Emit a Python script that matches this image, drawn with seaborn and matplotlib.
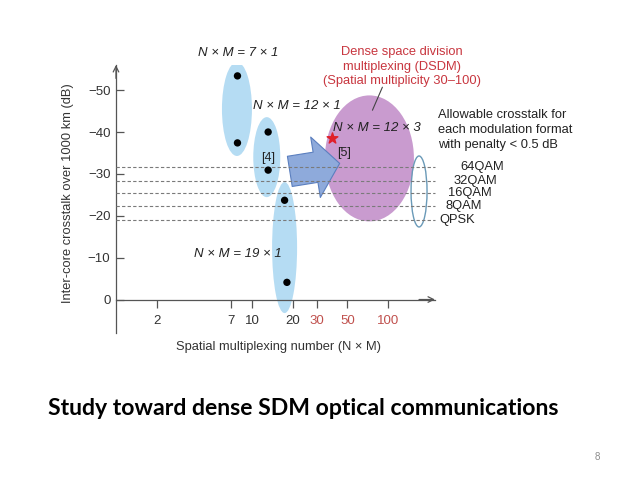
import matplotlib
matplotlib.use("Agg")
import matplotlib.pyplot as plt
import seaborn as sns
import pandas as pd
from matplotlib.patches import Ellipse
from matplotlib.transforms import ScaledTranslation
from matplotlib.ticker import FixedLocator, FixedFormatter, NullLocator

# measured fibres: spatial multiplicity vs crosstalk
dot_n = [7.8, 7.8, 13.1, 13.1, 17.3, 18.0]
dot_xt = [-53.4, -37.4, -40.0, -30.9, -23.7, -4.1]

# groups (centre, size in px)
group_n = [7.73, 12.8, 17.3]
group_xt = [-45.5, -34.0, -12.4]
group_w = [30, 27, 25]
group_h = [94, 80, 131]
group_labels = ["N × M = 7 × 1", "N × M = 12 × 1", "N × M = 19 × 1"]

# DSDM region
dsdm_n, dsdm_xt = 72.6, -33.7
star_n, star_xt = 38.4, -38.5

# allowable crosstalk per modulation format
mod_formats = ["64QAM", "32QAM", "16QAM", "8QAM", "QPSK"]
mod_xt = [-31.6, -28.3, -25.4, -22.4, -19.1]
mod_dx = [25, 19, 13, 11, 4]

xticks = [2, 7, 10, 20, 30, 50, 100]
yticks = [-50, -40, -30, -20, -10, 0]

sns.set_style("white")
plt.rcParams['font.family'] = ['Liberation Sans', 'DejaVu Sans']

fig = plt.figure(figsize=(6.38, 4.78), dpi=100)
ax = fig.add_axes([0.1818, 0.3033, 0.5, 0.5607])
ax.set_xscale('log')
ax.set_xlim(1, 220)
ax.set_ylim(8, -56)


def blob(x, y, w, h, **kw):
    # ellipse centred in data coords, sized in pixels
    tr = fig.dpi_scale_trans + ScaledTranslation(x, y, ax.transData)
    e = Ellipse((0, 0), w / 100, h / 100, transform=tr, **kw)
    ax.add_patch(e)
    return e


for n, xt, w, h in zip(group_n, group_xt, group_w, group_h):
    blob(n, xt, w, h, fc="#b5dcf3", ec="none", zorder=1)
blob(dsdm_n, dsdm_xt, 89, 126, fc="#c99bcf", ec="none", zorder=1)
blob(168, -25.8, 16, 71, fc="none", ec="#6a9ab8", lw=1.0, zorder=3)

# big arrow towards DSDM
ax.annotate("", xy=(43.9, -32.5), xytext=(18.9, -30.6),
            arrowprops=dict(arrowstyle="simple,head_length=0.8,head_width=2.0,tail_width=1.0",
                            mutation_scale=22, fc="#8eaadb", ec="#5b7fbf", lw=0.8,
                            shrinkA=0, shrinkB=0), zorder=2)

# dashed crosstalk limits
for xt, name, dx in zip(mod_xt, mod_formats, mod_dx):
    ax.plot([1, 220], [xt, xt], ls=(0, (3, 2)), color="#7a7a7a", lw=0.8,
            zorder=3, clip_on=False)
    ax.annotate(name, xy=(220, xt), xytext=(dx, 0), textcoords="offset pixels",
                ha="left", va="center", fontsize=9.3, color="#222222",
                annotation_clip=False)

df = pd.DataFrame({"n": dot_n, "xt": dot_xt})
sns.scatterplot(data=df, x="n", y="xt", ax=ax, color="black", s=28,
                edgecolor="none", zorder=4)
ax.scatter([star_n], [star_xt], marker="*", s=65, color="#e0202a", zorder=4)

# labels
ax.text(7.9, -58.9, group_labels[0], style="italic", fontsize=9.5,
        ha="center", va="center", color="#222222")
ax.text(10.2, -46.2, group_labels[1], style="italic", fontsize=9.5,
        ha="left", va="center", color="#222222")
ax.text(3.77, -10.8, group_labels[2], style="italic", fontsize=9.5,
        ha="left", va="center", color="#222222")
ax.text(39.0, -40.9, "N × M = 12 × 3", style="italic", fontsize=9.5,
        ha="left", va="center", color="#222222")
ax.text(13.1, -33.7, "[4]", fontsize=9, ha="center", va="center", color="#222222")
ax.text(47.0, -34.9, "[5]", fontsize=9, ha="center", va="center", color="#222222")
ax.text(126.5, -55.6, "Dense space division\nmultiplexing (DSDM)\n(Spatial multiplicity 30–100)",
        fontsize=9.3, ha="center", va="center", color="#c8363f", linespacing=1.3)
ax.plot([90.4, 76.4], [-50.7, -45.2], color="#444444", lw=0.8, clip_on=False)
ax.text(232, -40.5, "Allowable crosstalk for\neach modulation format\nwith penalty < 0.5 dB",
        fontsize=9.3, ha="left", va="center", color="#222222", linespacing=1.3)

# axes styling
for s in ["top", "right"]:
    ax.spines[s].set_visible(False)
ax.spines["bottom"].set_position(("data", 0))
for s in ["left", "bottom"]:
    ax.spines[s].set_color("#555555")
    ax.spines[s].set_linewidth(0.9)
ax.annotate("", xy=(0, 1.0), xytext=(0, 0.95), xycoords="axes fraction",
            arrowprops=dict(arrowstyle="->", color="#555555", lw=0.9, shrinkA=0, shrinkB=0))
ax.annotate("", xy=(1.0, 0), xytext=(0.95, 0), xycoords=("axes fraction", "data"),
            arrowprops=dict(arrowstyle="->", color="#555555", lw=0.9, shrinkA=0, shrinkB=0))

ax.xaxis.set_major_locator(FixedLocator(xticks))
ax.xaxis.set_major_formatter(FixedFormatter([str(t) for t in xticks]))
ax.xaxis.set_minor_locator(NullLocator())
ax.set_yticks(yticks)
ax.tick_params(axis="x", direction="out", length=6, width=0.9, color="#555555",
               labelsize=9.5, pad=5, bottom=True)
ax.tick_params(axis="y", direction="in", length=6, width=0.9, color="#555555",
               labelsize=9.5, pad=4, left=True)
for lab in ax.get_xticklabels():
    lab.set_color("#c0504d" if lab.get_text() in ("30", "50", "100") else "#333333")
for lab in ax.get_yticklabels():
    lab.set_color("#333333")

ax.set_xlabel("Spatial multiplexing number (N × M)", fontsize=9.3, color="#333333")
ax.xaxis.set_label_coords(0.508, -0.052)
ax.xaxis.label.set_va("center")
ax.set_ylabel("Inter-core crosstalk over 1000 km (dB)", fontsize=9.3, color="#333333")
ax.yaxis.set_label_coords(-0.150, 0.522)
ax.yaxis.label.set_va("center")

fig.text(48 / 638, 1 - 415 / 478, "Study toward dense SDM optical communications",
         fontsize=16.6, fontweight="bold", family=["Lato", "DejaVu Sans"],
         ha="left", va="baseline", color="black")
fig.text(597 / 638, 1 - 457 / 478, "8", fontsize=7, color="#8c8c8c",
         ha="center", va="center")

fig.savefig("out.png", dpi=100, facecolor="white")
